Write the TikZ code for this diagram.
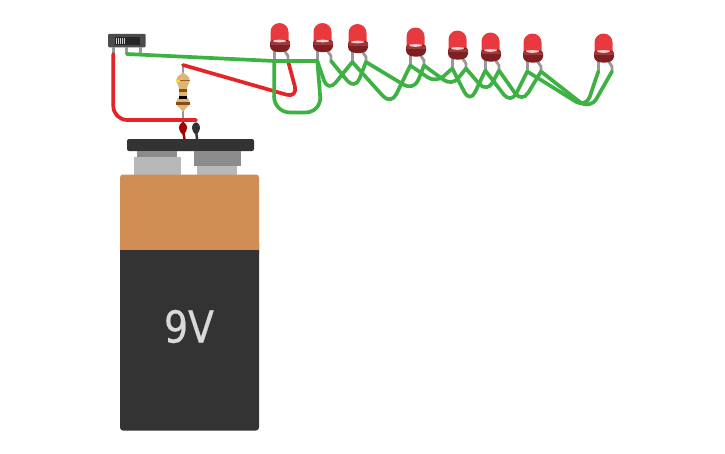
\documentclass[tikz,border=0pt]{standalone}
\usepackage{fontspec}
\setmainfont{DejaVu Sans}
\newfontfamily\voltfont{DejaVu Sans}[FakeBold=0.6]
\definecolor{wg}{HTML}{3DB243}
\definecolor{wr}{HTML}{E32428}
\definecolor{ledr}{HTML}{E83A3E}
\definecolor{ledd}{HTML}{7E1F22}
\definecolor{ledm}{HTML}{9A3A3C}
\definecolor{pin}{HTML}{999999}
\definecolor{batd}{HTML}{333333}
\definecolor{bato}{HTML}{D08D54}
\definecolor{tlight}{HTML}{B8B8B8}
\definecolor{tdark}{HTML}{8C8C8C}
\definecolor{rtan}{HTML}{DDB673}
\definecolor{rbr}{HTML}{8F4A14}
\tikzset{
  wire/.style={line width=3.7pt,line cap=round,line join=round,rounded corners=#1},
  wire/.default=7pt,
  green wire/.style={wire=#1,draw=wg},
  green wire/.default=7pt,
  red wire/.style={wire=#1,draw=wr},
  red wire/.default=7pt,
  lead/.style={draw=pin,line width=2.8pt,line join=round},
}
\newcommand{\ledpart}[3]{%
  \begin{scope}[shift={(#2,#3)}]
    \draw[lead] (274.3,50)--(274.3,61) coordinate (L#1);
    \draw[lead] (284,50)--(288,56)--(288,61) coordinate (R#1);
    \fill[ledr] (270.5,42) -- (270.5,32) arc[start angle=180,end angle=360,radius=9] -- (288.5,42) -- cycle;
    \fill[ledd,rounded corners=3pt] (270,40)--(290,40)--(290,49)--(285,52)--(275,52)--(270,49)--cycle;
    \fill[ledm] (270.5,41) rectangle (289.5,44.5);
    \fill[ledr!70!white] (273,39.5) rectangle (286,41.5);
    \fill[white!75!ledr] (279.5,41) ellipse[x radius=6,y radius=1.3];
  \end{scope}}
\begin{document}
\begin{tikzpicture}[x=1pt,y=-1pt]
\useasboundingbox (0,0) rectangle (725,453);
% battery
\node[fill=batd,rounded corners=2pt,minimum width=127pt,minimum height=12pt,inner sep=0pt] (cap) at (190.5,145) {};
\fill[tdark] (137,151) rectangle (177,157);
\fill[tlight] (133.5,157) rectangle (180.5,175);
\fill[tdark] (194,151) rectangle (241,166);
\fill[tlight] (197,166) rectangle (237,175);
\fill[batd,rounded corners=3pt] (120,240) rectangle (259,430.5);
\fill[bato,rounded corners=3pt] (120,174.5) rectangle (259,258);
\fill[batd] (120,250) rectangle (259,262);
\node[text=white!85!black,font=\voltfont\fontsize{44}{46}\selectfont,inner sep=0pt,cm={0.86,0,0,1,(0,0)}] (volt) at (189,326.5) {9V};
% switch
\node[fill=white!30!black,rounded corners=1pt,minimum width=37.5pt,minimum height=13.5pt,inner sep=0pt] (sw) at (126.8,40.5) {};
\fill[black!85] (115,36.5) rectangle (140,45);
\foreach \x in {115.6,117.7,119.8,121.9,124} \fill[white!80!black] (\x,37.5) rectangle (\x+1.2,44);
\draw[lead] (113.3,47)--(113.3,54) coordinate (swa);
\draw[lead] (126.8,47)--(126.8,54) coordinate (swb);
\draw[lead] (140.5,47)--(140.5,54);
% LEDs
\ledpart{1}{0}{0}
\ledpart{2}{43}{0}
\ledpart{3}{78}{1}
\ledpart{4}{136}{4.5}
\ledpart{5}{178}{7.5}
\ledpart{6}{211}{9.5}
\ledpart{7}{253}{10.5}
\ledpart{8}{324}{10.5}
% resistor
\draw[lead] (183,65) coordinate (rt) -- (183,122) coordinate (rb);
\fill[rtan] (183,72) .. controls (185,75) and (189.5,75.5) .. (189.7,80) .. controls (189.8,84) and (187,85) .. (187,88)
 -- (187,97) .. controls (187,99) and (190,99) .. (190,102.5) .. controls (190,106) and (185,108) .. (183,112)
 .. controls (181,108) and (176,106) .. (176,102.5) .. controls (176,99) and (179,99) .. (179,97)
 -- (179,88) .. controls (179,85) and (176.2,84) .. (176.3,80) .. controls (176.5,75.5) and (181,75) .. (183,72) -- cycle;
\fill[rbr!80!rtan] (180,80.3) rectangle (189.5,81.3);
\fill[yellow!70!rtan] (176.3,80) rectangle (180,81.6);
\fill[rbr] (179,88.7) rectangle (187,91.7);
\fill[black] (179,95.5) rectangle (187,99);
\fill[rbr] (176.2,101.7) rectangle (189.8,104.7);
% clips
\draw[line width=2.4pt,draw=red!65!black] (183,130) -- (184.5,139);
\draw[line width=2.4pt,draw=batd] (196,130) -- (197,139);
\fill[red!65!black] (183,121.5) .. controls (188.5,125) and (188.5,130) .. (183,135) .. controls (177.5,130) and (177.5,125) .. (183,121.5) -- cycle;
\fill[batd] (196,121.5) .. controls (201.5,125) and (201.5,130) .. (196,135) .. controls (190.5,130) and (190.5,125) .. (196,121.5) -- cycle;
\draw[lead] (196,120) coordinate (ct) -- (196,123);
% wires
\draw[red wire=14pt] (swa) -- (113.3,120) -- (ct);
\draw[red wire=12pt] (rt) -- (298,98) -- (R1);
\draw[green wire=1pt] (swb) -- (L1) -- (L2);
\draw[green wire=16pt] (L1) -- (274,112.5) -- (321.5,112.5) -- (L2);
\draw[green wire=12pt] (L2) -- (328,92) -- (L3);
\draw[green wire=12pt] (R2) -- (355,90) -- (R3);
\draw[green wire=12pt] (L3) -- (391,105) -- (L4);
\draw[green wire=12pt] (R3) -- (414,91) -- (R4);
\draw[green wire=10pt] (L4) -- (436,83) -- (L5);
\draw[green wire=10pt] (R4) -- (452,86) -- (R5);
\draw[green wire=12pt] (L5) -- (470,103) -- (L6);
\draw[green wire=12pt] (R5) -- (487,93) -- (R6);
\draw[green wire=12pt] (L6) -- (511,104) -- (L7);
\draw[green wire=12pt] (R6) -- (522,103) -- (R7);
\draw[green wire=12pt] (L7) -- (586,108) -- (L8);
\draw[green wire=13pt] (R7) -- (590,110) -- (R8);
\end{tikzpicture}
\end{document}
